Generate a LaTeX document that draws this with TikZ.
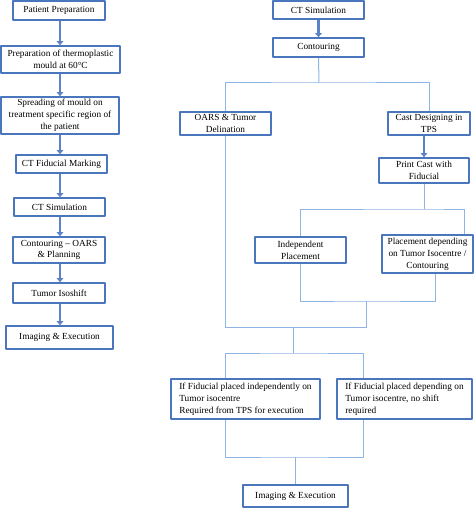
\documentclass[tikz,border=0pt]{standalone}
\usepackage{fontspec}
\setmainfont{Liberation Serif}
\usepackage{tikz}
\usetikzlibrary{arrows.meta,backgrounds}

\definecolor{boxblue}{HTML}{4A76BE}
\definecolor{linkblue}{HTML}{8DB4E2}
\definecolor{arrblue}{HTML}{5B83C6}

\begin{document}
\begin{tikzpicture}[x=1pt,y=-1pt,join=round, % mould and printed cast work flows
        box/.style={draw=boxblue,line width=1.6pt,fill=white,inner sep=1pt,font=\fontsize{9.3}{11.8}\selectfont,align=center},
        link/.style={draw=linkblue,line width=1pt},
        flow/.style={draw=arrblue,line width=2.6pt,-{Triangle[width=6.5pt,length=4pt]}}]
        \useasboundingbox (0,0) rectangle (474,508);
        % left column
        \node[box,minimum width=92pt,minimum height=19pt] (pp) at (59,10.5) {Patient Preparation};
        \node[box,minimum width=119pt,minimum height=27pt] (mould) at (60.5,59.5) {Preparation of thermoplastic\\mould at 60°C};
        \node[box,minimum width=118pt,minimum height=37pt] (spread) at (60,115.5) {Spreading of mould on\\treatment specific region of\\the patient};
        \node[box,minimum width=91pt,minimum height=18pt] (fidm) at (61.5,164) {CT Fiducial Marking};
        \node[box,minimum width=91pt,minimum height=18pt] (ctsl) at (59.5,207) {CT Simulation};
        \node[box,minimum width=92pt,minimum height=26pt] (contl) at (59,250) {Contouring -- OARS\\\& Planning};
        \node[box,minimum width=92pt,minimum height=20pt] (iso) at (59,293) {Tumor Isoshift};
        \node[box,minimum width=107pt,minimum height=23pt] (imgl) at (59.5,337.5) {Imaging \& Execution};
        \foreach \a/\b in {pp/mould,mould/spread,spread/fidm,fidm/ctsl,ctsl/contl,contl/iso,iso/imgl}
                \draw[flow] (60,0 |- \a.south) -- (60,0 |- \b.north);
        % right column
        \node[box,minimum width=91pt,minimum height=18pt] (ctsr) at (318.5,10) {CT Simulation};
        \node[box,minimum width=91pt,minimum height=19pt] (contr) at (318.5,47.5) {Contouring};
        \node[box,minimum width=91pt,minimum height=23pt] (oars) at (225.5,123.5) {OARS \& Tumor\\Delination};
        \node[box,minimum width=82pt,minimum height=23pt] (cast) at (429,123.5) {Cast Designing in\\TPS};
        \node[box,minimum width=90pt,minimum height=25pt] (print) at (424,170.5) {Print Cast with\\Fiducial};
        \node[box,minimum width=91pt,minimum height=26pt] (indep) at (300.5,250) {Independent\\Placement};
        \node[box,minimum width=91pt,minimum height=38pt] (pdep) at (427.5,254) {Placement depending\\on Tumor Isocentre /\\Contouring};
        \node[box,align=left,minimum width=149pt,minimum height=40pt] (fidind) at (245.5,399) {If Fiducial placed independently on\\Tumor isocentre\\Required from TPS for execution};
        \node[box,align=left,minimum width=135pt,minimum height=40pt] (fiddep) at (404.5,399) {If Fiducial placed depending on\\Tumor isocentre, no shift\\required};
        \node[box,minimum width=105pt,minimum height=22pt] (imgr) at (295.5,496) {Imaging \& Execution};
        \draw[flow] (ctsr.south) -- (contr.north);
        \draw[flow] (cast.south -| print.north) -- (print.north);
        \coordinate (j1) at (319,83);
        \coordinate (j2) at (424,209);
        \coordinate (j3) at (366,301);
        \coordinate (j4) at (366,327);
        \coordinate (j5) at (293,327);
        \coordinate (j6) at (293,353);
        \coordinate (j7) at (295,457);
        \draw[link] (contr.south) -- (j1);
        \draw[link] (oars.north) |- (j1) -| (cast.north);
        \draw[link] (print.south) -- (j2);
        \draw[link] (indep.north) |- (j2) -| ([xshift=37pt]pdep.north);
        \draw[link] (indep.south) |- (j3) -| ([xshift=8pt]pdep.south);
        \draw[link] (j3) -- (j4) -| (oars.south);
        \draw[link] (j5) -- (j6);
        \draw[link] ([xshift=-20pt]fidind.north) |- (j6) -| ([xshift=-41pt]fiddep.north);
        \draw[link] ([xshift=-20pt]fidind.south) |- (j7) -| ([xshift=-41pt]fiddep.south);
        \draw[link] (j7) -- (j7 |- imgr.north);
\end{tikzpicture}
\end{document}
